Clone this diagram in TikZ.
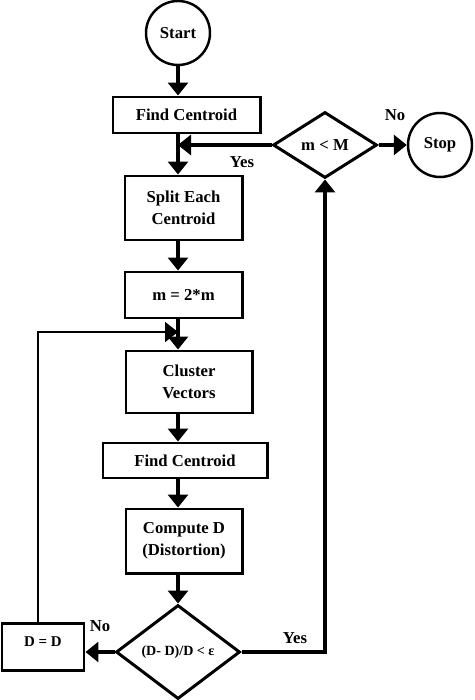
\documentclass[tikz,border=0pt]{standalone}
\usepackage{fontspec}
\setmainfont{Liberation Serif}
\usetikzlibrary{positioning,arrows.meta,shapes.geometric}
\tikzset{
  proc/.style={draw, line width=1.7pt, align=center, inner sep=1pt, font=\fontsize{9.5}{12.5}\selectfont\bfseries},
  term/.style={draw, circle, line width=1.4pt, minimum size=12.8mm, inner sep=0pt, font=\fontsize{9.5}{12}\selectfont\bfseries},
  cond/.style={draw, diamond, line width=1.7pt, inner sep=0pt, align=center, font=\fontsize{9.5}{12}\selectfont\bfseries},
  arrow/.style={-{Triangle[length=2.6mm, width=4mm]}, line width=1.9pt},
  lbl/.style={font=\fontsize{9.5}{12}\selectfont\bfseries, inner sep=1pt}
}
\begin{document}
\begin{tikzpicture}[x=0.2mm, y=-0.2mm]
  \useasboundingbox (0,0) rectangle (474,700);
  % main column
  \node[term] (start) at (178,33) {Start};
  \node[proc, minimum width=29.4mm, minimum height=7.2mm] (fcA) at (186.5,115) {Find Centroid};
  \node[proc, minimum width=23.4mm, minimum height=12.8mm] (split) at (183.5,208) {Split Each\\ Centroid};
  \node[proc, minimum width=23.4mm, minimum height=9.2mm] (double) at (183.5,295) {m = 2*m};
  \node[proc, minimum width=25.2mm, minimum height=12.4mm] (cluster) at (189,382) {Cluster\\ Vectors};
  \node[proc, minimum width=32.8mm, minimum height=7mm] (fcB) at (185,460.5) {Find Centroid};
  \node[proc, minimum width=23.2mm, minimum height=12.8mm] (dist) at (184,541) {Compute D\\ (Distortion)};
  \node[cond, minimum width=24.8mm, minimum height=18.8mm, font=\fontsize{8}{10}\selectfont\bfseries] (test) at (178,652) {(D- D)/D < ε};
  % side nodes
  \node[proc, minimum width=16.4mm, minimum height=9.4mm, font=\fontsize{8.5}{10}\selectfont\bfseries, text depth=2.2mm] (upd) at (43,647) {D = D};
  \node[cond, minimum width=20.8mm, minimum height=13.2mm] (cmp) at (325,145) {m < M};
  \node[term] (stop) at (440,145) {Stop};
  \coordinate (spine) at (178,0);
  \coordinate (join) at (178,145);
  \coordinate (loop) at (38,332);
  \coordinate (back) at (178,332);
  % connectors
  \draw[arrow] (start.south) -- (spine |- fcA.north);
  \draw[arrow] (spine |- fcA.south) -- (spine |- split.north);
  \draw[arrow] (spine |- split.south) -- (spine |- double.north);
  \draw[arrow] (spine |- double.south) -- (spine |- cluster.north);
  \draw[arrow] (spine |- cluster.south) -- (spine |- fcB.north);
  \draw[arrow] (spine |- fcB.south) -- (spine |- dist.north);
  \draw[arrow] (spine |- dist.south) -- (test.north);
  \draw[arrow] (test.west) -- (test.west -| upd.east);
  \draw[line width=1.1pt, -{Triangle[length=2.6mm, width=4mm]}] (upd.north -| loop) -- (loop) -- (back);
  \draw[arrow] (test.east) -| (cmp.south);
  \draw[arrow] (cmp.west) -- (join);
  \draw[arrow] (cmp.east) -- (stop.west);
  % labels
  \node[lbl] (yesA) at (242,162) {Yes};
  \node[lbl] (noA) at (395,115) {No};
  \node[lbl] (noB) at (100,626) {No};
  \node[lbl] (yesB) at (295,638) {Yes};
\end{tikzpicture}
\end{document}
